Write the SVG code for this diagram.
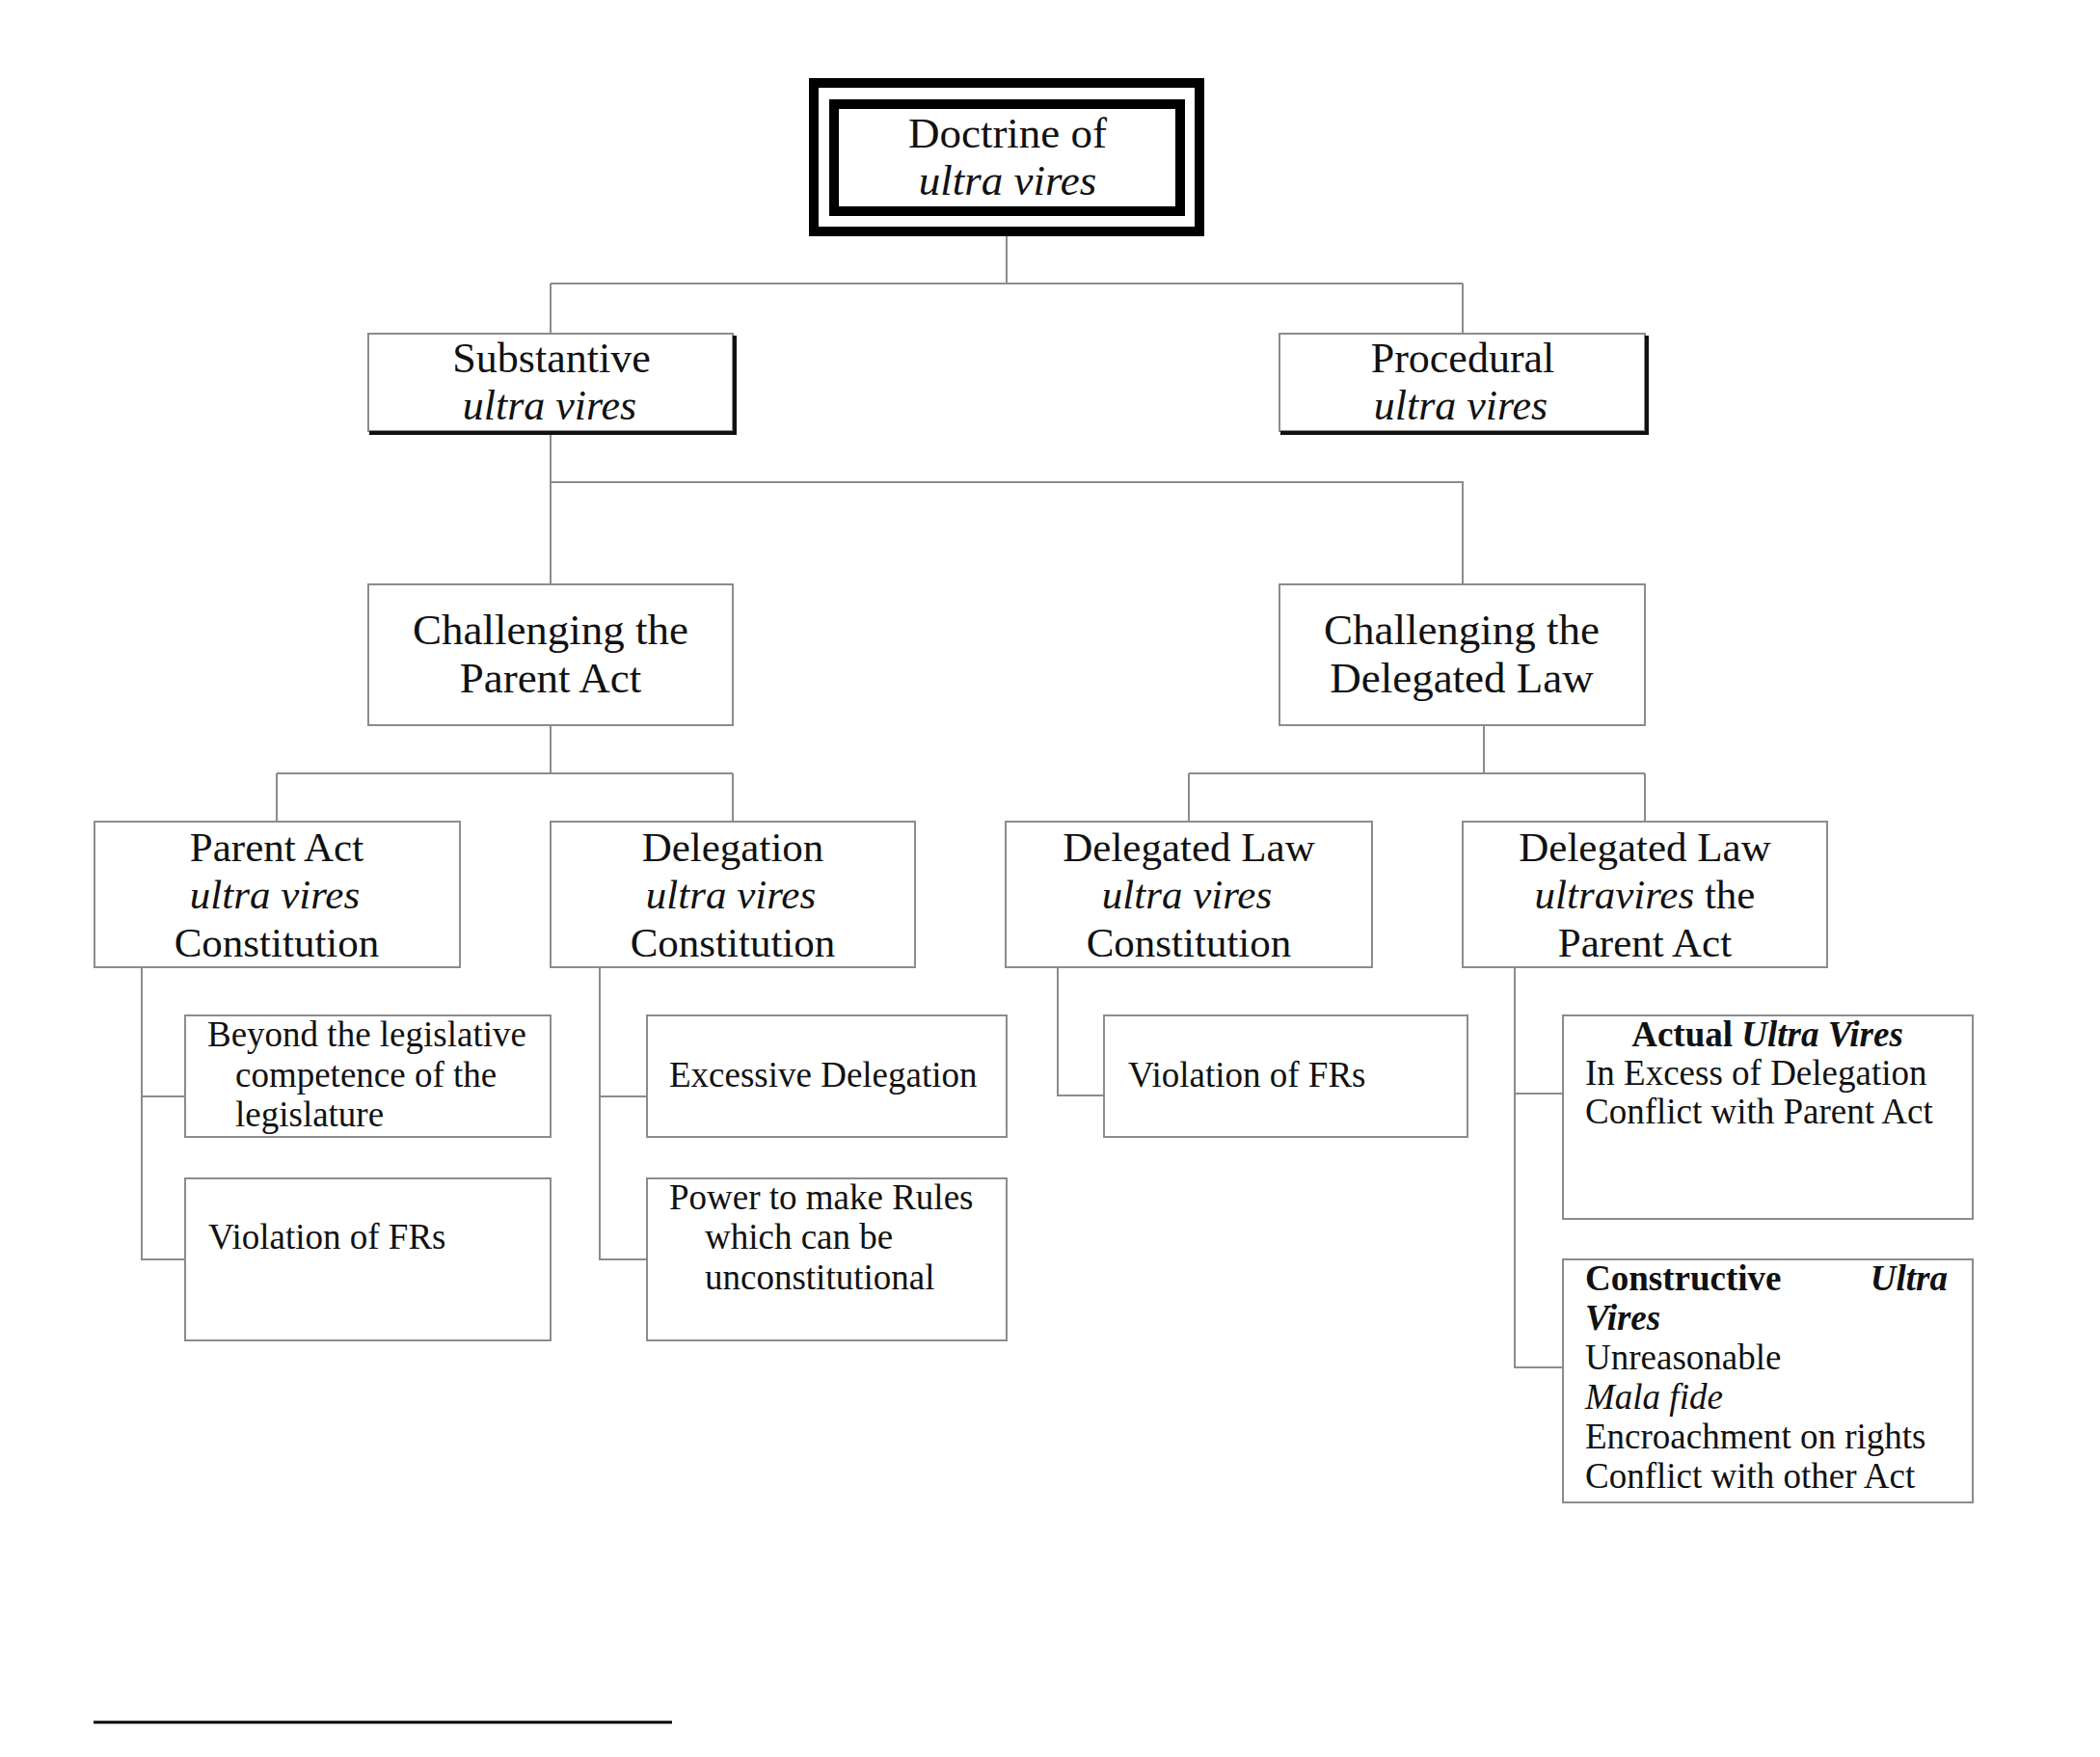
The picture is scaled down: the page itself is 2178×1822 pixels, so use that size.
<svg xmlns="http://www.w3.org/2000/svg" width="2178" height="1822" viewBox="0 0 2178 1822">
<style>
.bg{fill:#ffffff}
.box{fill:#ffffff;stroke:#8c8c8c;stroke-width:2}
.shadow{fill:none;stroke:#111;stroke-width:4}
.thick{fill:none;stroke:#000;stroke-width:10}
.conn{fill:none;stroke:#8c8c8c;stroke-width:2}
text{font-family:"Liberation Serif","Times New Roman",serif;fill:#111}
.big{font-size:44px;text-anchor:middle}
.mid{font-size:43px;text-anchor:middle}
.sm{font-size:37px}
.it{font-style:italic}
.b{font-weight:bold}
</style>
<rect class="bg" x="0" y="0" width="2178" height="1822"/>
<g id="connectors">
<path class="conn" d="M1044 245 V294 M571 294 H1517 M571 294 V346 M1517 294 V346"/>
<path class="conn" d="M571 447 V500 H1517 V606 M571 500 V606"/>
<path class="conn" d="M571 752 V802 M287 802 H760 M287 802 V852 M760 802 V852"/>
<path class="conn" d="M1539 752 V802 M1233 802 H1706 M1233 802 V852 M1706 802 V852"/>
<path class="conn" d="M147 1003 V1306 H192 M147 1137 H192"/>
<path class="conn" d="M622 1003 V1306 H671 M622 1137 H671"/>
<path class="conn" d="M1097 1003 V1136 H1145"/>
<path class="conn" d="M1571 1003 V1418 H1621 M1571 1134 H1621"/>
</g>
<g id="root">
<rect class="thick" x="844" y="86" width="400" height="154" fill="#fff"/>
<rect class="thick" x="865" y="108" width="359" height="111"/>
<text class="big" x="1045" y="153" style="font-size:45px">Doctrine of</text>
<text class="big it" x="1045" y="202" style="font-size:45px">ultra vires</text>
</g>
<g id="substantive">
<rect class="box" x="382" y="346" width="378" height="101"/>
<path class="shadow" d="M762 348 V449 H383"/>
<text class="big" x="572" y="386">Substantive</text>
<text class="big it" x="570" y="435">ultra vires</text>
</g>
<g id="procedural">
<rect class="box" x="1327" y="346" width="379" height="101"/>
<path class="shadow" d="M1708 348 V449 H1328"/>
<text class="big" x="1517" y="386">Procedural</text>
<text class="big it" x="1515" y="435">ultra vires</text>
</g>
<g id="challenging-parent">
<rect class="box" x="382" y="606" width="378" height="146"/>
<text class="big" x="571" y="668" style="font-size:45px">Challenging the</text>
<text class="big" x="571" y="718" style="font-size:45px">Parent Act</text>
</g>
<g id="challenging-delegated">
<rect class="box" x="1327" y="606" width="379" height="146"/>
<text class="big" x="1516" y="668" style="font-size:45px">Challenging the</text>
<text class="big" x="1516" y="718" style="font-size:45px">Delegated Law</text>
</g>
<g id="parent-act-uv">
<rect class="box" x="98" y="852" width="379" height="151"/>
<text class="mid" x="287" y="893">Parent Act</text>
<text class="mid it" x="285" y="942">ultra vires</text>
<text class="mid" x="287" y="992">Constitution</text>
</g>
<g id="delegation-uv">
<rect class="box" x="571" y="852" width="378" height="151"/>
<text class="mid" x="760" y="893">Delegation</text>
<text class="mid it" x="758" y="942">ultra vires</text>
<text class="mid" x="760" y="992">Constitution</text>
</g>
<g id="delegated-law-const">
<rect class="box" x="1043" y="852" width="380" height="151"/>
<text class="mid" x="1233" y="893">Delegated Law</text>
<text class="mid it" x="1231" y="942">ultra vires</text>
<text class="mid" x="1233" y="992">Constitution</text>
</g>
<g id="delegated-law-parent">
<rect class="box" x="1517" y="852" width="378" height="151"/>
<text class="mid" x="1706" y="893">Delegated Law</text>
<text class="mid" x="1706" y="942"><tspan class="it">ultravires</tspan> the</text>
<text class="mid" x="1706" y="992">Parent Act</text>
</g>
<g id="beyond">
<rect class="box" x="192" y="1053" width="379" height="126"/>
<text class="sm" x="215" y="1085">Beyond the legislative</text>
<text class="sm" x="244" y="1127">competence of the</text>
<text class="sm" x="244" y="1168">legislature</text>
</g>
<g id="violation-1">
<rect class="box" x="192" y="1222" width="379" height="168"/>
<text class="sm" x="216" y="1295">Violation of FRs</text>
</g>
<g id="excessive">
<rect class="box" x="671" y="1053" width="373" height="126"/>
<text class="sm" x="694" y="1127">Excessive Delegation</text>
</g>
<g id="power">
<rect class="box" x="671" y="1222" width="373" height="168"/>
<text class="sm" x="694" y="1254">Power to make Rules</text>
<text class="sm" x="731" y="1295">which can be</text>
<text class="sm" x="731" y="1337">unconstitutional</text>
</g>
<g id="violation-2">
<rect class="box" x="1145" y="1053" width="377" height="126"/>
<text class="sm" x="1170" y="1127">Violation of FRs</text>
</g>
<g id="actual">
<rect class="box" x="1621" y="1053" width="425" height="211"/>
<text class="sm b" x="1833" y="1085" text-anchor="middle">Actual <tspan class="it">Ultra Vires</tspan></text>
<text class="sm" x="1644" y="1125">In Excess of Delegation</text>
<text class="sm" x="1644" y="1165">Conflict with Parent Act</text>
</g>
<g id="constructive">
<rect class="box" x="1621" y="1306" width="425" height="252"/>
<text class="sm b" x="1644" y="1338">Constructive</text>
<text class="sm b it" x="2020" y="1338" text-anchor="end">Ultra</text>
<text class="sm b it" x="1644" y="1379">Vires</text>
<text class="sm" x="1644" y="1420">Unreasonable</text>
<text class="sm it" x="1644" y="1461">Mala fide</text>
<text class="sm" x="1644" y="1502">Encroachment on rights</text>
<text class="sm" x="1644" y="1543">Conflict with other Act</text>
</g>
<line x1="97" y1="1786" x2="697" y2="1786" stroke="#000" stroke-width="3"/>
</svg>
